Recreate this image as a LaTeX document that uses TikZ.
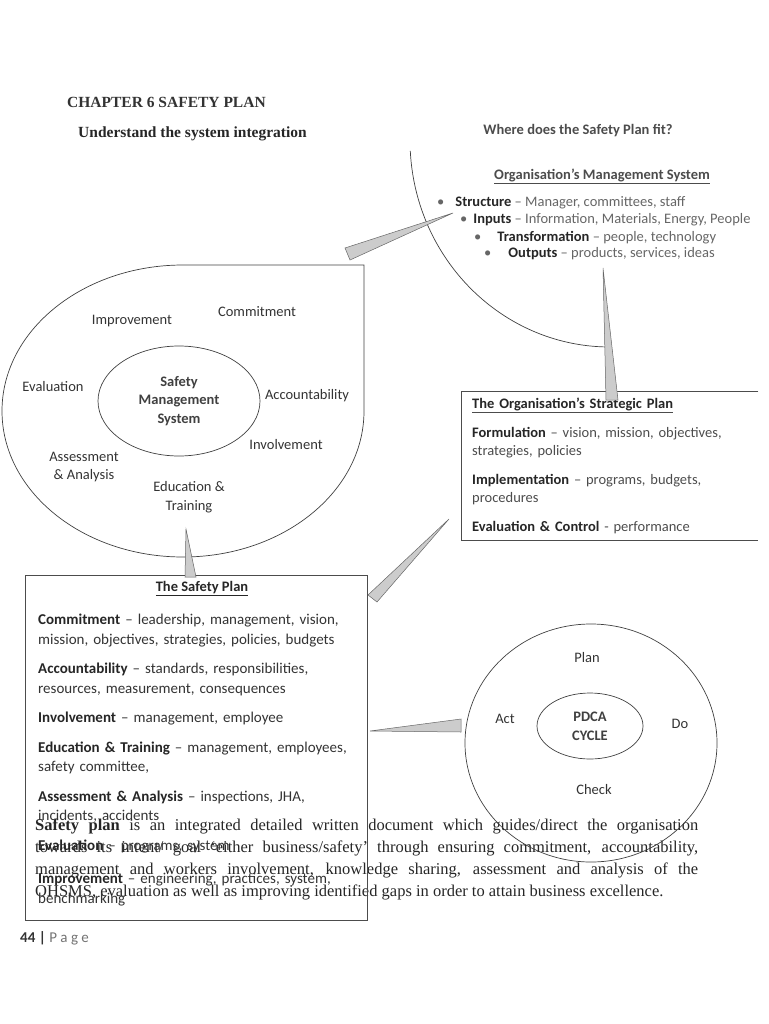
\documentclass[tikz,border=0pt]{standalone}
\usepackage{fontspec}
\setmainfont{Carlito}
\newfontfamily\serifface{Liberation Serif}
\usetikzlibrary{positioning,calc,shapes.geometric}
\newcommand{\keyterm}[1]{\textbf{\color{black!85}#1}}

\begin{document}
\begin{tikzpicture}[
    x=1pt, y=-1pt,
    lbl/.style={font=\fontsize{14.5}{18.5}\selectfont, text=black!80, align=center, inner sep=0pt},
    bul/.style={font=\fontsize{14.5}{18}\selectfont, text=black!60, anchor=west, inner sep=0pt},
    itemtext/.style={font=\fontsize{14.5}{19.5}\selectfont, text=black!70, align=left, inner sep=0pt, anchor=north west},
    framebox/.style={rectangle, draw=black!70, line width=0.7pt, anchor=north west, inner sep=0pt},
    ring/.style={draw=black!75, line width=0.7pt},
    callout/.style={fill=black!20, draw=black!60, line width=0.5pt, line join=miter}
]
\useasboundingbox (0,0) rectangle (768,1024);

% Headings
\node[font=\serifface\bfseries\fontsize{15.5}{18}\selectfont, text=black!80, anchor=west, inner sep=0pt] (chapter) at (67,102) {CHAPTER 6 SAFETY PLAN};
\node[font=\serifface\bfseries\fontsize{15.5}{18}\selectfont, text=black!85, anchor=west, inner sep=0pt] (subtitle) at (78,134) {Understand the system integration};

% Organisation's management system
\coordinate (omsC) at (610,140);
\draw[ring] (omsC) ++(177:200 and 207) arc[start angle=177, end angle=91, x radius=200, y radius=207];
\node[lbl, font=\bfseries\fontsize{14.5}{18}\selectfont, text=black!70] (fit) at (578,131) {Where does the Safety Plan fit?};
\node[lbl, font=\bfseries\fontsize{14.5}{18}\selectfont, text=black!70] (oms) at (602,176) {\underline{Organisation’s Management System}};
\node[bul] (structure) at (437,203) {\textbullet\hspace{11pt}\keyterm{Structure} -- Manager, committees, staff};
\node[bul] (inputs) at (460,220) {\textbullet\hspace{6pt}\keyterm{Inputs} -- Information, Materials, Energy, People};
\node[bul] (transform) at (474,238) {\textbullet\hspace{16pt}\keyterm{Transformation} -- people, technology};
\node[bul] (outputs) at (484,254) {\textbullet\hspace{17pt}\keyterm{Outputs} -- products, services, ideas};

% Safety management system teardrop
\draw[ring] (364,265) -- (183,265) arc[start angle=270, end angle=0, x radius=181, y radius=146] -- cycle;
\node[ellipse, draw=black!75, line width=0.7pt, minimum width=162pt, minimum height=110pt, lbl, font=\bfseries\fontsize{14.5}{18.3}\selectfont, text=black!75] (sms) at (179,401) {Safety\\Management\\System};
\node[lbl] (improve) at (132,321) {Improvement};
\node[lbl] (commit) at (257,312) {Commitment};
\node[lbl] (evaluate) at (53,387) {Evaluation};
\node[lbl] (account) at (307,396) {Accountability};
\node[lbl] (involve) at (286,445) {Involvement};
\node[lbl] (assess) at (84,467) {Assessment\\\& Analysis};
\node[lbl] (educate) at (189,497) {Education \&\\Training};

% Strategic plan
\node[anchor=north west, minimum width=297pt, minimum height=149pt, inner sep=0pt] (strat) at (461,391) {};
\draw[black!70, line width=0.7pt] (strat.north east) -- (strat.north west) -- (strat.south west) -- (strat.south east);
\node[itemtext, text width=285pt, font=\fontsize{14.5}{18.5}\selectfont] (strattext) at (472,398) {\underline{\keyterm{The Organisation’s Strategic Plan}}\\[10pt]
    \keyterm{Formulation} -- vision, mission, objectives,\\ strategies, policies\\[10pt]
    \keyterm{Implementation} -- programs, budgets,\\ procedures\\[10pt]
    \keyterm{Evaluation \& Control} - performance};

% Paragraph
\node[anchor=north west, text width=663pt, align=justify, inner sep=0pt, text=black!85, font=\serifface\fontsize{16.5}{22}\selectfont] (para) at (35,819) {\textbf{Safety plan} is an integrated detailed written document which guides/direct the organisation\linebreak
    towards its intent/ goal ‘either business/safety’ through ensuring commitment, accountability,\linebreak
    management and workers involvement, knowledge sharing, assessment and analysis of the\linebreak
    OHSMS, evaluation as well as improving identified gaps in order to attain business excellence.};

% Safety plan
\node[framebox, minimum width=342pt, minimum height=345pt] (safety) at (25,575) {};
\node[lbl, font=\bfseries\fontsize{14.5}{18}\selectfont, text=black!85] (sptitle) at (202,589) {\underline{The Safety Plan}};
\node[itemtext, text width=325pt, text=black!80, font=\fontsize{15}{19.5}\selectfont] (sptext) at (38,614) {\keyterm{Commitment} -- leadership, management, vision,\\ mission, objectives, strategies, policies, budgets\\[10pt]
    \keyterm{Accountability} -- standards, responsibilities,\\ resources, measurement, consequences\\[10pt]
    \keyterm{Involvement} -- management, employee\\[10pt]
    \keyterm{Education \& Training} -- management, employees,\\ safety committee,\\[10pt]
    \keyterm{Assessment \& Analysis} -- inspections, JHA,\\ incidents, accidents\\[10pt]
    \keyterm{Evaluation} -- programs, system\\[14pt]
    \keyterm{Improvement} -- engineering, practices, system,\\ benchmarking};

% PDCA cycle
\node[ellipse, draw=black!75, line width=0.7pt, minimum width=252pt, minimum height=238pt] (pdca) at (591,743) {};
\node[ellipse, draw=black!75, line width=0.7pt, minimum width=106pt, minimum height=66pt, lbl, font=\bfseries\fontsize{14.5}{19}\selectfont, text=black!75] (cycle) at (590,726) {PDCA\\CYCLE};
\node[lbl] (plan) at (587,658) {Plan};
\node[lbl] (act) at (505,719) {Act};
\node[lbl] (do) at (680,724) {Do};
\node[lbl] (check) at (594,790) {Check};

% Footer
\node[anchor=west, inner sep=0pt, font=\fontsize{15}{18}\selectfont, text=black!80] (pagenum) at (20,938) {\textbf{44 |} {\color{black!55}P a g e}};

% Callouts
\coordinate (c1tip) at (453,213); \coordinate (c1a) at (345,248); \coordinate (c1b) at (350,260);
\coordinate (c2tip) at (603,268); \coordinate (c2a) at (606,400); \coordinate (c2b) at (618,400);
\coordinate (c3tip) at (449,519); \coordinate (c3a) at (368,595); \coordinate (c3b) at (377,602);
\coordinate (c4tip) at (186,529); \coordinate (c4a) at (185,577); \coordinate (c4b) at (196,577);
\coordinate (c5tip) at (370,731); \coordinate (c5a) at (461,719); \coordinate (c5b) at (461,732);
\foreach \c in {c1,c2,c3,c4,c5}
    \draw[callout] (\c tip) -- (\c a) -- (\c b) -- cycle;

\end{tikzpicture}
\end{document}
